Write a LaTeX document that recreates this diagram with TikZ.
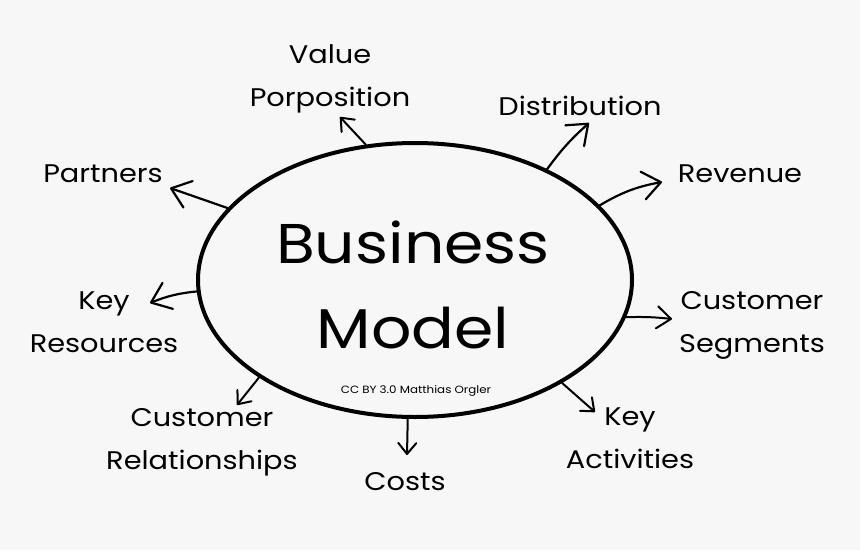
\documentclass[tikz,border=0pt]{standalone}
\usepackage{fontspec}
\setmainfont[FakeStretch=1.13]{Poppins}
\usetikzlibrary{shapes.geometric,arrows.meta}
\definecolor{bg}{HTML}{F7F7F7}
\begin{document}
\begin{tikzpicture}[x=1pt,y=-1pt,
  lbl/.style={anchor=base,align=center,font=\fontsize{25.5}{43}\selectfont,inner sep=0pt},
  arr/.style={line width=2pt,line cap=round,-{Straight Barb[length=11pt,width=18pt,round]}},
  arrbig/.style={line width=2.2pt,line cap=round,-{Straight Barb[length=18pt,width=28pt,round]}},
  arrmid/.style={line width=2pt,line cap=round,-{Straight Barb[length=14pt,width=22pt,round]}},
]
\fill[bg] (0,0) rectangle (860,550);
\useasboundingbox (0,0) rectangle (860,550);
\node[ellipse,draw,line width=4pt,minimum width=434pt,minimum height=274pt,inner sep=0pt] (bm) at (415,280) {};
\node[anchor=base,align=center,font=\fontsize{56}{85}\selectfont,inner sep=0pt] (title) at (413,348) {Business\\Model};
\node[anchor=base,font=\fontsize{10.5}{12}\selectfont,inner sep=0pt] (cc) at (416,393) {CC BY 3.0 Matthias Orgler};
\node[lbl] (vp) at (330,106) {Value\\Porposition};
\node[lbl] (pa) at (103,182) {Partners};
\node[lbl] (di) at (580,115) {Distribution};
\node[lbl] (re) at (740,182) {Revenue};
\node[lbl] (cs) at (752,352) {Customer\\Segments};
\node[lbl] (kr) at (104,352) {Key\\Resources};
\node[lbl] (cr) at (202,469) {Customer\\Relationships};
\node[lbl] (co) at (405,490) {Costs};
\node[lbl] (ka) at (630,468) {Key\\Activities};
\coordinate (tvp) at (340,117);
\coordinate (tpa) at (170,188);
\coordinate (tdi) at (589,123);
\coordinate (tre) at (662,182);
\coordinate (tcs) at (672,319);
\coordinate (tkr) at (150,303);
\coordinate (tcr) at (237,405);
\coordinate (tco) at (407,455);
\coordinate (tka) at (595,412);
\draw[arr] (bm.110) -- (tvp);
\draw[arrbig] (bm.159) -- (tpa);
\draw[arrbig] (bm.40) to[bend left=6] (tdi);
\draw[arrbig] (bm.22.6) to[bend left=10] (tre);
\draw[arrmid] (bm.-10.4) to[bend left=4] (tcs);
\draw[arrbig] (bm.183.4) to[bend right=8] (tkr);
\draw[arr] (bm.212.3) -- (tcr);
\draw[arr] (bm.267.1) -- (tco);
\draw[arr] (bm.325.8) -- (tka);
\end{tikzpicture}
\end{document}
